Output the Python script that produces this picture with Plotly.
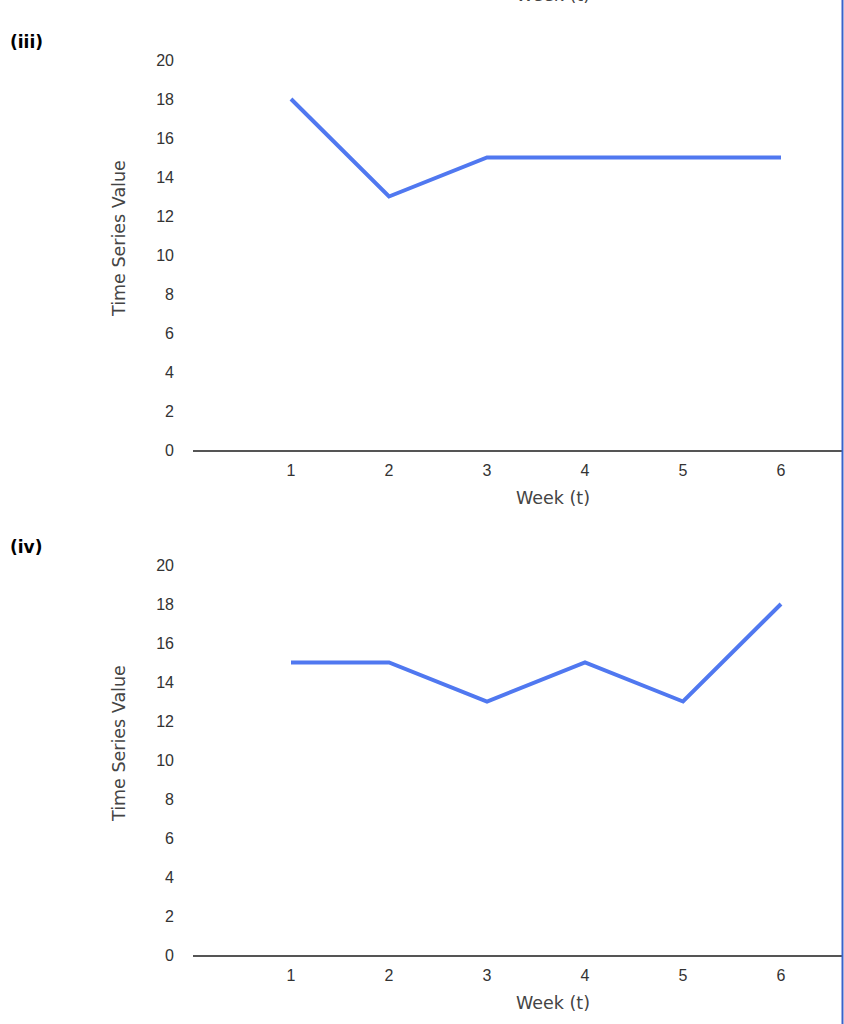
import plotly.graph_objects as go

weeks = [1, 2, 3, 4, 5, 6]
series_iii = [18, 13, 15, 15, 15, 15]
series_iv = [15, 15, 13, 15, 13, 18]
y_ticks = [0, 2, 4, 6, 8, 10, 12, 14, 16, 18, 20]
panel_labels = ["(iii)", "(iv)"]

W, H = 844, 1024
LINE = "#5078f0"
AXIS_FONT = dict(family="Liberation Sans, Arial, sans-serif", size=16, color="#333")
TITLE_FONT = dict(family="DejaVu Sans, sans-serif", size=17.5, color="#444")

fig = go.Figure()

# pixel positions of each panel: (y of value 0, y of value 20)
panels = [(450, 60), (955, 565)]
x_left, x_right = 193, 842

fig.add_trace(go.Scatter(x=weeks, y=series_iii, mode="lines",
                         line=dict(color=LINE, width=4), xaxis="x", yaxis="y"))
fig.add_trace(go.Scatter(x=weeks, y=series_iv, mode="lines",
                         line=dict(color=LINE, width=4), xaxis="x2", yaxis="y2"))

layout = dict(template="none", width=W, height=H,
              margin=dict(l=0, r=0, t=0, b=0, pad=0, autoexpand=False),
              paper_bgcolor="white", plot_bgcolor="white", showlegend=False)

annotations = []
for i, (y0, y20) in enumerate(panels):
    sx = "" if i == 0 else str(i + 1)
    layout["xaxis" + sx] = dict(
        domain=[x_left / W, x_right / W], range=[0, (x_right - x_left) / 98],
        anchor="y" + sx, tickvals=weeks, showgrid=False, zeroline=False,
        showline=True, linecolor="#555", linewidth=2, ticks="", automargin=False,
        ticklabelstandoff=5, tickfont=AXIS_FONT)
    layout["yaxis" + sx] = dict(
        domain=[1 - y0 / H, 1 - y20 / H], range=[0, 20], anchor="x" + sx,
        tickvals=y_ticks, showgrid=False, zeroline=False, showline=False,
        ticks="", automargin=False, ticklabelstandoff=18, tickfont=AXIS_FONT)
    annotations.append(dict(text="Week (t)", xref="paper", yref="paper",
                            x=553 / W, y=1 - (y0 + 48) / H,
                            xanchor="center", yanchor="middle",
                            showarrow=False, font=TITLE_FONT))
    annotations.append(dict(text="Time Series Value", xref="paper", yref="paper",
                            x=119 / W, y=1 - (y0 - 211) / H,
                            xanchor="center", yanchor="middle", showarrow=False,
                            textangle=-90, font=TITLE_FONT))
    annotations.append(dict(text="<b>" + panel_labels[i] + "</b>", xref="paper",
                            yref="paper", x=8 / W, y=1 - (y0 - 408) / H,
                            xanchor="left", yanchor="middle", showarrow=False,
                            font=dict(family="DejaVu Sans, sans-serif", size=17,
                                      color="black")))

# title of the panel above, cut off by the page edge
annotations.append(dict(text="Week (t)", xref="paper", yref="paper",
                        x=553 / W, y=1, xanchor="center", yanchor="bottom",
                        yshift=-7, showarrow=False, font=TITLE_FONT))
layout["annotations"] = annotations
layout["shapes"] = [dict(type="line", xref="paper", yref="paper",
                         x0=842.5 / W, x1=842.5 / W, y0=0, y1=1,
                         line=dict(color="#3a62c9", width=2))]

fig.update_layout(**layout)
fig.write_html("out.html", config={"displayModeBar": False},
               post_script="document.body.style.margin='0';"
                           "document.body.style.overflow='hidden';")
